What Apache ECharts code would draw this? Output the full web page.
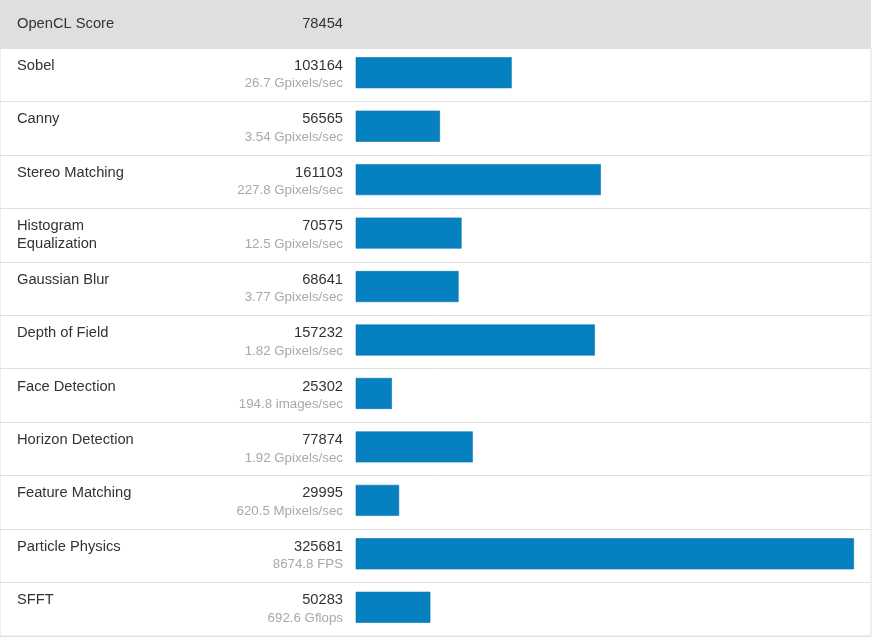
<!DOCTYPE html>
<html><head><meta charset="utf-8">
<script src="https://cdn.jsdelivr.net/npm/echarts@6/dist/echarts.min.js"></script>
<style>html,body{margin:0;padding:0;background:#fff}#c{width:877px;height:639px}</style>
</head><body><div id="c"></div>
<script>
const headerLabel = 'OpenCL Score';
const headerScore = 78454;
const names = ['Sobel', 'Canny', 'Stereo Matching', 'Histogram\nEqualization', 'Gaussian Blur', 'Depth of Field', 'Face Detection', 'Horizon Detection', 'Feature Matching', 'Particle Physics', 'SFFT'];
const scores = [103164, 56565, 161103, 70575, 68641, 157232, 25302, 77874, 29995, 325681, 50283];
const subtitles = ['26.7 Gpixels/sec', '3.54 Gpixels/sec', '227.8 Gpixels/sec', '12.5 Gpixels/sec', '3.77 Gpixels/sec', '1.82 Gpixels/sec', '194.8 images/sec', '1.92 Gpixels/sec', '620.5 Mpixels/sec', '8674.8 FPS', '692.6 Gflops'];

const FONT = '"Liberation Sans", Arial, Helvetica, sans-serif';
const cats = names.map((n, i) => String(i));
const rich = {
  n: {fontFamily: FONT, fontSize: 14.7, fontWeight: 'normal', color: '#333', align: 'left', lineHeight: 18},
  s: {fontFamily: FONT, fontSize: 14.7, fontWeight: 'normal', color: '#333', align: 'right', lineHeight: 18},
  u: {fontFamily: FONT, fontSize: 13.3, fontWeight: 'normal', color: '#a8a8a8', align: 'right', lineHeight: 18}
};

const chart = echarts.init(document.getElementById('c'), null, {renderer: 'canvas'});
chart.setOption({
  animation: false,
  backgroundColor: '#ffffff',
  graphic: [
    {type: 'rect', left: 0, top: 0, z: -10, silent: true,
     shape: {width: 871, height: 48}, style: {fill: '#dfdfdf'}}
  ],
  title: {
    left: 17, top: 15,
    text: '{n|' + headerLabel + '}{s|' + headerScore + '}',
    padding: 0,
    textStyle: {width: 326, fontWeight: 'normal', rich: rich}
  },
  grid: [
    {left: 356, right: 23, top: 46, bottom: 5},
    {left: -1, right: 6, top: 48, bottom: 3, show: true, borderColor: '#e0e0e0', borderWidth: 1, backgroundColor: 'transparent'}
  ],
  xAxis: [
    {type: 'value', gridIndex: 0, min: 1962, max: 325681, show: false},
    {type: 'value', gridIndex: 1, min: 0, max: 1, show: false}
  ],
  yAxis: [
    {type: 'category', gridIndex: 0, inverse: true, data: cats, show: false},
    {type: 'category', gridIndex: 1, inverse: true, data: cats,
     axisLine: {show: false}, axisTick: {show: false},
     splitLine: {show: true, lineStyle: {color: '#e0e0e0', width: 1}},
     axisLabel: {
       inside: true, margin: 17, width: 326, rich: rich,
       formatter: function (v) {
         const i = +v;
         const parts = names[i].split('\n');
         let s = '{n|' + parts[0] + '}{s|' + scores[i] + '}\n';
         if (parts[1]) s += '{n|' + parts[1] + '}';
         s += '{u|' + subtitles[i] + '}';
         return s;
       }
     }}
  ],
  series: [{
    type: 'bar', xAxisIndex: 0, yAxisIndex: 0,
    data: scores, barWidth: 31,
    itemStyle: {color: '#0580c1', borderColor: '#0b72aa', borderWidth: 0.6}
  }]
});
</script></body></html>
